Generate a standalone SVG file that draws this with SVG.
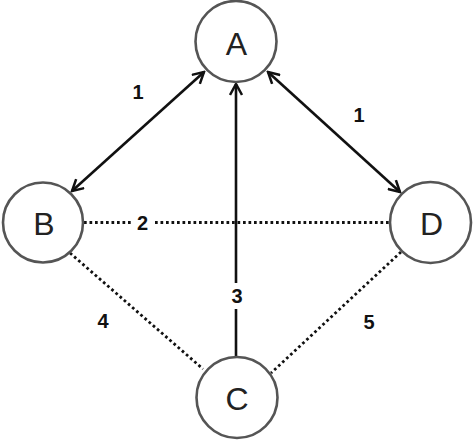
<svg xmlns="http://www.w3.org/2000/svg" width="474" height="440" viewBox="0 0 474 440">
  <style>
    .node circle { fill: #ffffff; stroke: #555555; stroke-width: 2.6; }
    .node text { font-family: "Liberation Sans", Arial, sans-serif; font-size: 32px; fill: #222222; text-anchor: middle; }
    .solid { stroke: #111111; stroke-width: 2.6; fill: none; }
    .dotted { stroke: #111111; stroke-width: 2.8; fill: none; stroke-dasharray: 2.7 2.8; }
    .label { font-family: "Liberation Sans", Arial, sans-serif; font-size: 20px; font-weight: bold; fill: #111111; text-anchor: middle; }
  </style>
  <defs>
    <marker id="arrow" viewBox="0 0 14 14" refX="12.5" refY="7" markerWidth="14" markerHeight="14" markerUnits="userSpaceOnUse" orient="auto-start-reverse">
      <path d="M1.5,1 L12.5,7 L1.5,13" fill="none" stroke="#111111" stroke-width="2.5" stroke-linejoin="miter"/>
    </marker>
  </defs>

  <g id="connectors">
    <line class="solid" x1="72" y1="191" x2="204" y2="72" marker-start="url(#arrow)" marker-end="url(#arrow)"/>
    <line class="solid" x1="268" y1="72" x2="400" y2="192" marker-start="url(#arrow)" marker-end="url(#arrow)"/>
    <line class="solid" x1="236" y1="357" x2="236" y2="309"/>
    <line class="solid" x1="236" y1="283" x2="236" y2="84" marker-end="url(#arrow)"/>
    <line class="dotted" x1="84" y1="222.5" x2="131" y2="222.5"/>
    <line class="dotted" x1="155" y1="222.5" x2="390" y2="222.5"/>
    <line class="dotted" x1="70" y1="253" x2="203" y2="369"/>
    <line class="dotted" x1="401" y1="252" x2="271" y2="373"/>
    <text class="label" x="138" y="99">1</text>
    <text class="label" x="359" y="122">1</text>
    <text class="label" x="142.5" y="230">2</text>
    <text class="label" x="237" y="303">3</text>
    <text class="label" x="103" y="328">4</text>
    <text class="label" x="369" y="329">5</text>
  </g>

  <g id="node-A" class="node">
    <circle cx="236" cy="41.5" r="40.5"/>
    <text x="236.5" y="55">A</text>
  </g>
  <g id="node-B" class="node">
    <circle cx="43" cy="222.5" r="40"/>
    <text x="44" y="235">B</text>
  </g>
  <g id="node-D" class="node">
    <circle cx="430.5" cy="222.5" r="40.5"/>
    <text x="431.5" y="235">D</text>
  </g>
  <g id="node-C" class="node">
    <circle cx="237" cy="397.5" r="40.5"/>
    <text x="237" y="410">C</text>
  </g>
</svg>
